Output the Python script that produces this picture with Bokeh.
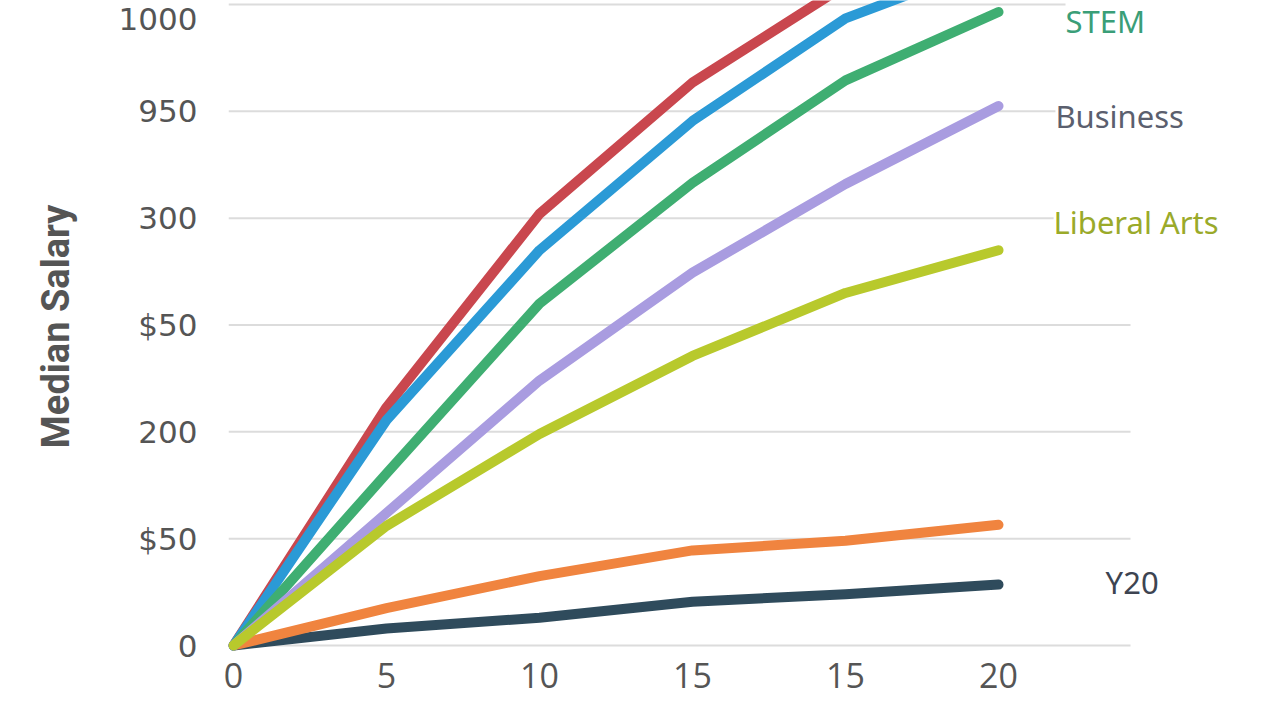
from bokeh.plotting import figure
from bokeh.models import FixedTicker, Label, Range1d
from bokeh.embed import file_html
from bokeh.resources import INLINE

# ---- data ----
years = [0, 5, 10, 15, 20, 25]
year_labels = ["0", "5", "10", "15", "15", "20"]
salary_ticks = [0, 50, 100, 150, 200, 250, 300]
salary_labels = ["0", "$50", "200", "$50", "300", "950", "1000"]

series_red = [0, 111.5, 202, 263.5, 309, 344]
series_blue = [0, 105.5, 185, 245.5, 293.5, 320.5]
series_stem = [0, 80.5, 160, 216.5, 264.5, 296.5]
series_business = [0, 62, 124, 174.5, 216, 252.5]
series_liberal = [0, 56, 99, 135.5, 165, 185]
series_orange = [0, 17.5, 32.5, 44.5, 49, 56.5]
series_y20 = [0, 8, 13, 20.5, 24, 28.5]

# ---- layout ----
W, H = 1264, 704
LEFT, BOTTOM = 228, 52
frame_w = W - LEFT
frame_h = H - BOTTOM
px_x = 30.6
x0 = -5 / px_x
px_y = 641 / 300
y_top = 300 + 4 / px_y
y0 = y_top - frame_h / px_y

p = figure(width=W, height=H, output_backend="svg", toolbar_location=None,
           x_range=Range1d(x0, x0 + frame_w / px_x),
           y_range=Range1d(y0, y_top),
           min_border_left=LEFT, min_border_bottom=BOTTOM,
           min_border_top=0, min_border_right=0)
p.outline_line_color = None
p.background_fill_color = "white"
p.border_fill_color = "white"
p.xgrid.visible = False
p.ygrid.visible = False

# grid lines (limited extent)
grid_end = (1130 - 233) / px_x
p.segment(x0=[x0] * len(salary_ticks), x1=[grid_end] * len(salary_ticks),
          y0=salary_ticks, y1=salary_ticks, line_color="#dcdcdc", line_width=2)

# axes
p.xaxis.ticker = FixedTicker(ticks=years)
p.xaxis.major_label_overrides = {v: s for v, s in zip(years, year_labels)}
p.yaxis.ticker = FixedTicker(ticks=salary_ticks)
p.yaxis.major_label_overrides = {v: s for v, s in zip(salary_ticks, salary_labels)}
for ax in (p.xaxis, p.yaxis):
    ax.axis_line_color = None
    ax.major_tick_line_color = None
    ax.minor_tick_line_color = None
    ax.major_tick_out = 0
    ax.major_tick_in = 0
    ax.major_label_text_color = "#555555"
p.xaxis.major_label_text_font = "Open Sans"
p.xaxis.major_label_text_font_size = "34px"
p.xaxis.major_label_standoff = 10
p.yaxis.major_label_text_font = "DejaVu Sans"
p.yaxis.major_label_text_font_size = "31px"
p.yaxis.major_label_standoff = 31
p.yaxis.axis_label = "Median Salary"
p.yaxis.axis_label_text_font = "Roboto"
p.yaxis.axis_label_text_font_style = "bold"
p.yaxis.axis_label_text_font_size = "38px"
p.yaxis.axis_label_text_color = "#555555"
p.yaxis.axis_label_standoff = 38

# lines
lines = [
    (series_y20, "#2f4b5c"),
    (series_orange, "#f0843f"),
    (series_red, "#c9474e"),
    (series_blue, "#2b9ad6"),
    (series_stem, "#3fae72"),
    (series_business, "#a99ce0"),
    (series_liberal, "#b8c92c"),
]
for ys, c in lines:
    p.line(years, ys, line_color=c, line_width=10, line_cap="round", line_join="round")

# labels at right
labels = [
    ("STEM", 27.19, 292.5, "#3a9e78"),
    ("Business", 26.86, 247.6, "#5b5f6e"),
    ("Liberal Arts", 26.80, 198.0, "#9aaa2a"),
    ("Y20", 28.5, 29.5, "#3d4451"),
]
for txt, lx, ly, c in labels:
    p.add_layout(Label(x=lx, y=ly, text=txt, text_color=c, text_font="Noto Sans",
                       text_font_size="31px", text_baseline="middle", text_align="left",
                       background_fill_color="white"))

open("out.html", "w").write(file_html(p, INLINE))
